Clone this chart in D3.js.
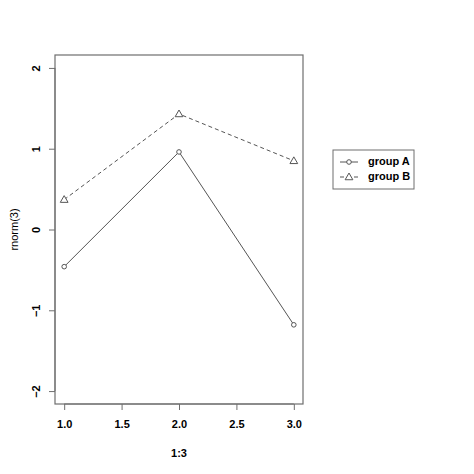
<!DOCTYPE html>
<html>
<head>
<meta charset="utf-8">
<script src="https://cdn.jsdelivr.net/npm/d3@7"></script>
<style>
  body { margin: 0; background: #fff; }
  text { font-family: "Liberation Sans", Arial, sans-serif; fill: #000; }
</style>
</head>
<body>
<script>
// data
var xs = [1, 2, 3];
var groupA = [-0.46, 0.96, -1.18];
var groupB = [0.37, 1.43, 0.85];
var seriesNames = ["group A", "group B"];
var xTicks = [1.0, 1.5, 2.0, 2.5, 3.0];
var yTicks = [-2, -1, 0, 1, 2];

var W = 474, H = 474;
var plot = { left: 55, right: 303, top: 55, bottom: 404 };

var svg = d3.select("body").append("svg")
  .attr("width", W).attr("height", H);

var x = d3.scaleLinear().domain([0.92, 3.08]).range([plot.left, plot.right]);
var y = d3.scaleLinear().domain([-2.16, 2.16]).range([plot.bottom, plot.top]);

var axisCol = "#6e6e6e";
var lineCol = "#555";

// box
svg.append("rect")
  .attr("x", plot.left).attr("y", plot.top)
  .attr("width", plot.right - plot.left).attr("height", plot.bottom - plot.top)
  .attr("fill", "none").attr("stroke", axisCol).attr("stroke-width", 1.2);

// x axis
var gx = svg.append("g")
  .attr("transform", "translate(0," + plot.bottom + ")")
  .call(d3.axisBottom(x).tickValues(xTicks).tickFormat(d3.format(".1f"))
    .tickSize(6).tickPadding(10));
gx.select(".domain").attr("stroke", axisCol)
  .attr("d", "M" + x(1) + ",0H" + x(3));
gx.selectAll(".tick line").attr("stroke", axisCol);
gx.selectAll(".tick text")
  .attr("font-size", 11).attr("font-weight", "bold").attr("fill", "#000");

// y axis, labels parallel to the axis
var gy = svg.append("g")
  .attr("transform", "translate(" + plot.left + ",0)")
  .call(d3.axisLeft(y).tickValues(yTicks).tickSize(6).tickFormat(d3.format("d")));
gy.select(".domain").attr("stroke", axisCol)
  .attr("d", "M0," + y(-2) + "V" + y(2));
gy.selectAll(".tick line").attr("stroke", axisCol);
gy.selectAll(".tick text")
  .attr("x", 0).attr("dy", 0)
  .attr("transform", "translate(-18,0) rotate(-90)")
  .attr("text-anchor", "middle")
  .attr("dominant-baseline", "middle")
  .attr("font-size", 11).attr("font-weight", "bold").attr("fill", "#000");

// axis titles
svg.append("text")
  .attr("x", (plot.left + plot.right) / 2).attr("y", 457)
  .attr("text-anchor", "middle")
  .attr("font-size", 11).attr("font-weight", "bold")
  .text("1:3");
svg.append("text")
  .attr("transform", "translate(15," + (plot.top + plot.bottom) / 2 + ") rotate(-90)")
  .attr("text-anchor", "middle")
  .attr("dominant-baseline", "middle")
  .attr("font-size", 11)
  .text("rnorm(3)");

var line = d3.line().x(function(d) { return x(d[0]); }).y(function(d) { return y(d[1]); });
var triangle = d3.symbol().type(d3.symbolTriangle).size(26);

function drawSeries(vals, dash, shape) {
  var pts = xs.map(function(v, i) { return [v, vals[i]]; });
  svg.append("path").datum(pts)
    .attr("d", line)
    .attr("fill", "none").attr("stroke", lineCol).attr("stroke-width", 1)
    .attr("stroke-dasharray", dash);
  if (shape === "circle") {
    svg.selectAll(null).data(pts).join("circle")
      .attr("cx", function(d) { return x(d[0]); })
      .attr("cy", function(d) { return y(d[1]); })
      .attr("r", 2.3)
      .attr("fill", "#fff").attr("stroke", lineCol).attr("stroke-width", 1);
  } else {
    svg.selectAll(null).data(pts).join("path")
      .attr("d", triangle)
      .attr("transform", function(d) { return "translate(" + x(d[0]) + "," + (y(d[1]) + 0.5) + ")"; })
      .attr("fill", "#fff").attr("stroke", lineCol).attr("stroke-width", 1);
  }
}

drawSeries(groupA, null, "circle");
drawSeries(groupB, "4,3", "triangle");

// legend
var leg = svg.append("g").attr("transform", "translate(333,150)");
leg.append("rect")
  .attr("width", 81).attr("height", 39)
  .attr("fill", "#fff").attr("stroke", axisCol).attr("stroke-width", 1);
seriesNames.forEach(function(name, i) {
  var cy = 12 + i * 15;
  leg.append("line")
    .attr("x1", 7).attr("x2", 25).attr("y1", cy).attr("y2", cy)
    .attr("stroke", lineCol).attr("stroke-dasharray", i === 1 ? "4,3" : null);
  if (i === 0) {
    leg.append("circle").attr("cx", 16).attr("cy", cy).attr("r", 2.3)
      .attr("fill", "#fff").attr("stroke", lineCol);
  } else {
    leg.append("path").attr("d", triangle)
      .attr("transform", "translate(16," + (cy + 0.5) + ")")
      .attr("fill", "#fff").attr("stroke", lineCol);
  }
  leg.append("text")
    .attr("x", 35).attr("y", cy)
    .attr("dominant-baseline", "middle")
    .attr("font-size", 11).attr("font-weight", "bold")
    .text(name);
});
</script>
</body>
</html>
